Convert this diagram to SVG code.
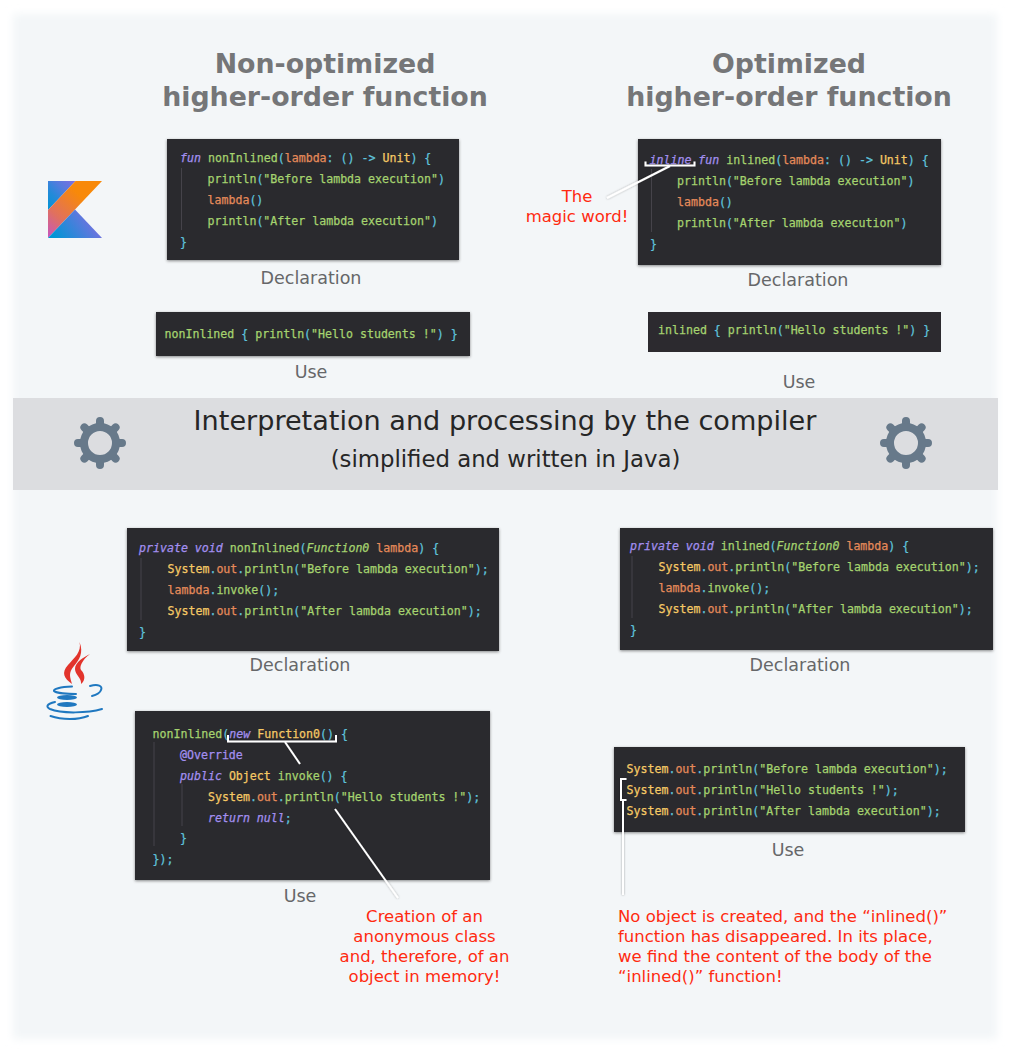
<svg xmlns="http://www.w3.org/2000/svg" width="1011" height="1052" viewBox="0 0 1011 1052">
<style>
text{white-space:pre}
.t{font:bold 26.800px "DejaVu Sans",sans-serif;fill:#757678;text-anchor:middle}
.l{font:17.500px "DejaVu Sans",sans-serif;fill:#666769;text-anchor:middle}
.r{font:16.500px "DejaVu Sans",sans-serif;fill:#ff2a10}
.m{text-anchor:middle}
.c{font:11.600px "DejaVu Sans Mono",monospace;fill:#a5d36f;stroke:#a5d36f;stroke-width:.25}
.n{fill:#a5d36f;stroke:#a5d36f}
.k{fill:#a38ff0;stroke:#a38ff0;font-style:italic}
.a{fill:#a38ff0;stroke:#a38ff0}
.o{fill:#e58a5a;stroke:#e58a5a}
.b{fill:#5fc3dc;stroke:#5fc3dc}
.y{fill:#f5c965;stroke:#f5c965}
.i{fill:#a5d36f;stroke:#a5d36f;font-style:italic}
.p{fill:#2c2a2f;filter:url(#sh)}
.g{stroke:#45434a;stroke-width:1;fill:none}
.w{stroke:#fff;stroke-width:2;fill:none}
.j{stroke:#1f78c0;stroke-width:2;fill:none;stroke-linecap:round}
</style>
<defs>
<filter id="sh" x="-5%" y="-10%" width="110%" height="120%"><feDropShadow dx="0" dy="1" stdDeviation="1.500" flood-color="#000" flood-opacity=".45"/></filter>
<filter id="ls" filterUnits="userSpaceOnUse" x="0" y="0" width="1011" height="1052"><feDropShadow dx="0" dy="0" stdDeviation="1" flood-color="#000" flood-opacity=".35"/></filter>
<filter id="bg" x="-3%" y="-3%" width="106%" height="106%"><feGaussianBlur stdDeviation="4"/></filter>
<linearGradient id="k1" x1="0" y1="1" x2="1" y2="0"><stop offset="0" stop-color="#0095d5"/><stop offset=".35" stop-color="#238ad9"/><stop offset=".65" stop-color="#557bde"/><stop offset="1" stop-color="#7f6ee0"/></linearGradient>
<linearGradient id="k2" gradientUnits="userSpaceOnUse" x1="48" y1="236" x2="95" y2="186"><stop offset="0" stop-color="#c757bc"/><stop offset=".3" stop-color="#e0705f"/><stop offset=".75" stop-color="#f88909"/></linearGradient>
<linearGradient id="k3" gradientUnits="userSpaceOnUse" x1="55" y1="238" x2="92" y2="212"><stop offset="0" stop-color="#0095d5"/><stop offset="1" stop-color="#7f6ee0"/></linearGradient>
<g id="gear">
<path stroke="#67798a" stroke-width="8" stroke-linecap="round" d="M0-18V-22M0 18V22M-18 0H-22M18 0H22M-12.700-12.700L-15.600-15.600M12.700-12.700L15.600-15.600M-12.700 12.700L-15.600 15.600M12.700 12.700L15.600 15.600"/>
<circle r="16" fill="none" stroke="#67798a" stroke-width="8"/>
</g>
</defs>
<rect width="1011" height="1052" fill="#fff"/>
<rect x="13" y="14" width="984" height="1025" fill="#f3f6f8" filter="url(#bg)"/>
<rect x="13" y="398" width="985" height="92" fill="#dcdde0"/>

<g id="title-left"><text class="t" x="325" y="73">Non-optimized</text><text class="t" x="325" y="106">higher-order function</text></g>
<g id="title-right"><text class="t" x="789" y="73">Optimized</text><text class="t" x="789" y="106">higher-order function</text></g>

<g id="kotlin-logo">
<polygon points="48,181 75.500,181 48,210" fill="url(#k1)"/>
<polygon points="75.500,181 102,181 48,238 48,210" fill="url(#k2)"/>
<polygon points="75,209.500 102,238 48,238" fill="url(#k3)"/>
</g>

<g id="kotlin-declaration">
<rect class="p" x="167" y="139" width="292" height="121"/>
<path class="g" d="M181.500 168V230"/>
<text class="c" y="162"><tspan x="180" class="k">fun</tspan> nonInlined<tspan class="b">(</tspan><tspan class="o">lambda</tspan><tspan class="b">: () -&gt; </tspan><tspan class="y">Unit</tspan><tspan class="b">) {</tspan></text>
<text class="c" y="183" x="207.500">println<tspan class="b">(</tspan>"Before lambda execution"<tspan class="b">)</tspan></text>
<text class="c o" y="204" x="207.500">lambda<tspan class="b">()</tspan></text>
<text class="c" y="225" x="207.500">println<tspan class="b">(</tspan>"After lambda execution"<tspan class="b">)</tspan></text>
<text class="c b" y="245.500" x="180">}</text>
<text class="l" x="311" y="284">Declaration</text>
</g>

<g id="kotlin-use">
<rect class="p" x="156" y="312" width="314" height="44"/>
<text class="c" y="338" x="164.500">nonInlined <tspan class="b">{</tspan> println<tspan class="b">(</tspan>"Hello students !"<tspan class="b">) }</tspan></text>
<text class="l" x="311" y="378">Use</text>
</g>

<g id="inline-declaration">
<rect class="p" x="638" y="139" width="303" height="126"/>
<path class="g" d="M651.500 169V232"/>
<text class="c" y="164"><tspan x="649.500" class="k">inline fun</tspan> inlined<tspan class="b">(</tspan><tspan class="o">lambda</tspan><tspan class="b">: () -&gt; </tspan><tspan class="y">Unit</tspan><tspan class="b">) {</tspan></text>
<text class="c" y="185" x="677">println<tspan class="b">(</tspan>"Before lambda execution"<tspan class="b">)</tspan></text>
<text class="c o" y="206" x="677">lambda<tspan class="b">()</tspan></text>
<text class="c" y="227" x="677">println<tspan class="b">(</tspan>"After lambda execution"<tspan class="b">)</tspan></text>
<text class="c b" y="247.500" x="650">}</text>
<text class="l" x="798" y="286">Declaration</text>
</g>

<g id="inline-use">
<rect fill="#2c2a2f" x="648" y="312" width="293" height="40"/>
<text class="c" y="334" x="658">inlined <tspan class="b">{</tspan> println<tspan class="b">(</tspan>"Hello students !"<tspan class="b">) }</tspan></text>
<text class="l" x="799" y="388">Use</text>
</g>

<g id="magic-note"><text class="r m" x="577" y="202">The</text><text class="r m" x="577" y="222">magic word!</text></g>

<g id="compiler-band">
<use href="#gear" x="100" y="443"/>
<use href="#gear" x="906" y="443"/>
<text x="505" y="430" text-anchor="middle" style="font:27.100px 'DejaVu Sans',sans-serif;fill:#262626">Interpretation and processing by the compiler</text>
<text x="505.500" y="467" text-anchor="middle" style="font:22.800px 'DejaVu Sans',sans-serif;fill:#262626">(simplified and written in Java)</text>
</g>

<g id="java-logo">
<path d="M79.500 642C82 652 74 658 68 665C61 673 64 678 72 684C70 677 68 673 74 666C79 660 84 653 79.500 642Z" fill="#e2342c"/>
<path d="M90 654C84 657 75 662 75 669C75 675 82 678 81 684C86 680 85 674 81 670C79 667 82 660 90 654Z" fill="#e2342c"/>
<path class="j" d="M72 686.500C60 687 53 689 54 691C56 693 68 694 76 694"/>
<path class="j" d="M90 686C98 683.500 103 686 101 690C100 693 96 695 92 696"/>
<ellipse cx="67" cy="697.500" rx="10" ry="2.600" fill="#1f78c0"/>
<ellipse cx="67" cy="704.500" rx="10" ry="2.600" fill="#1f78c0"/>
<path class="j" d="M55 702C46 704 46 707 50 709C62 714 88 713 102 709"/>
<path class="j" d="M50.500 716C62 720 78 720 88 716"/>
</g>

<g id="java-declaration">
<rect class="p" x="127" y="528" width="372" height="123"/>
<path class="g" d="M141 558V620"/>
<text class="c" y="552"><tspan x="139" class="k">private void</tspan> nonInlined<tspan class="b">(</tspan><tspan class="i">Function0</tspan> <tspan class="o">lambda</tspan><tspan class="b">) {</tspan></text>
<text class="c y" y="573" x="167.500">System<tspan class="b">.</tspan><tspan class="o">out</tspan><tspan class="b">.</tspan><tspan class="n">println</tspan><tspan class="b">(</tspan><tspan class="n">"Before lambda execution"</tspan><tspan class="b">);</tspan></text>
<text class="c o" y="594" x="167.500">lambda<tspan class="b">.</tspan><tspan class="n">invoke</tspan><tspan class="b">();</tspan></text>
<text class="c y" y="615" x="167.500">System<tspan class="b">.</tspan><tspan class="o">out</tspan><tspan class="b">.</tspan><tspan class="n">println</tspan><tspan class="b">(</tspan><tspan class="n">"After lambda execution"</tspan><tspan class="b">);</tspan></text>
<text class="c b" y="635.500" x="139">}</text>
<text class="l" x="300" y="671">Declaration</text>
</g>

<g id="inlined-declaration">
<rect class="p" x="620" y="528" width="373" height="122"/>
<path class="g" d="M632 556V618"/>
<text class="c" y="550"><tspan x="630" class="k">private void</tspan> inlined<tspan class="b">(</tspan><tspan class="i">Function0</tspan> <tspan class="o">lambda</tspan><tspan class="b">) {</tspan></text>
<text class="c y" y="571" x="658.500">System<tspan class="b">.</tspan><tspan class="o">out</tspan><tspan class="b">.</tspan><tspan class="n">println</tspan><tspan class="b">(</tspan><tspan class="n">"Before lambda execution"</tspan><tspan class="b">);</tspan></text>
<text class="c o" y="592" x="658.500">lambda<tspan class="b">.</tspan><tspan class="n">invoke</tspan><tspan class="b">();</tspan></text>
<text class="c y" y="613" x="658.500">System<tspan class="b">.</tspan><tspan class="o">out</tspan><tspan class="b">.</tspan><tspan class="n">println</tspan><tspan class="b">(</tspan><tspan class="n">"After lambda execution"</tspan><tspan class="b">);</tspan></text>
<text class="c b" y="633.500" x="630">}</text>
<text class="l" x="800" y="671">Declaration</text>
</g>

<g id="java-use">
<rect class="p" x="135" y="711" width="355" height="169"/>
<path class="g" d="M154 742V846M182 784V826"/>
<text class="c" y="738" x="152.500">nonInlined<tspan class="b">(</tspan><tspan class="k">new</tspan> <tspan class="y">Function0</tspan><tspan class="b">() {</tspan></text>
<text class="c a" y="759" x="180">@Override</text>
<text class="c" y="780" x="180"><tspan class="k">public</tspan> <tspan class="y">Object</tspan> invoke<tspan class="b">() {</tspan></text>
<text class="c y" y="801" x="208">System<tspan class="b">.</tspan><tspan class="o">out</tspan><tspan class="b">.</tspan><tspan class="n">println</tspan><tspan class="b">(</tspan><tspan class="n">"Hello students !"</tspan><tspan class="b">);</tspan></text>
<text class="c" y="822" x="208"><tspan class="k">return null</tspan><tspan class="b">;</tspan></text>
<text class="c b" y="842" x="180">}</text>
<text class="c b" y="863" x="152.500">});</text>
<text class="l" x="300" y="902">Use</text>
</g>

<g id="inlined-use">
<rect class="p" x="614" y="747" width="351" height="85"/>
<text class="c y" y="773" x="626.500">System<tspan class="b">.</tspan><tspan class="o">out</tspan><tspan class="b">.</tspan><tspan class="n">println</tspan><tspan class="b">(</tspan><tspan class="n">"Before lambda execution"</tspan><tspan class="b">);</tspan></text>
<text class="c y" y="794" x="626.500">System<tspan class="b">.</tspan><tspan class="o">out</tspan><tspan class="b">.</tspan><tspan class="n">println</tspan><tspan class="b">(</tspan><tspan class="n">"Hello students !"</tspan><tspan class="b">);</tspan></text>
<text class="c y" y="815" x="626.500">System<tspan class="b">.</tspan><tspan class="o">out</tspan><tspan class="b">.</tspan><tspan class="n">println</tspan><tspan class="b">(</tspan><tspan class="n">"After lambda execution"</tspan><tspan class="b">);</tspan></text>
<text class="l" x="788" y="856">Use</text>
</g>

<g id="anon-note">
<text class="r m" x="424.500" y="922">Creation of an</text><text class="r m" x="424.500" y="942">anonymous class</text><text class="r m" x="424.500" y="962">and, therefore, of an</text><text class="r m" x="424.500" y="982">object in memory!</text>
</g>
<g id="inline-note">
<text class="r" x="618" y="922">No object is created, and the “inlined()”</text><text class="r" x="618" y="942">function has disappeared. In its place,</text><text class="r" x="618" y="962">we find the content of the body of the</text><text class="r" x="618" y="982">“inlined()” function!</text>
</g>

<g id="connectors" filter="url(#ls)">
<path class="w" d="M645.500 161.500V165.500H694.500V161.500"/>
<path class="w" d="M670 166L607 198"/>
<path class="w" d="M228 735V741.500H336V735"/>
<path class="w" d="M285 742L300 764"/>
<path class="w" d="M335 809L398 898"/>
<path class="w" d="M626.500 779H621V800H626.500"/>
<path class="w" d="M623 800V895"/>
</g>
</svg>
